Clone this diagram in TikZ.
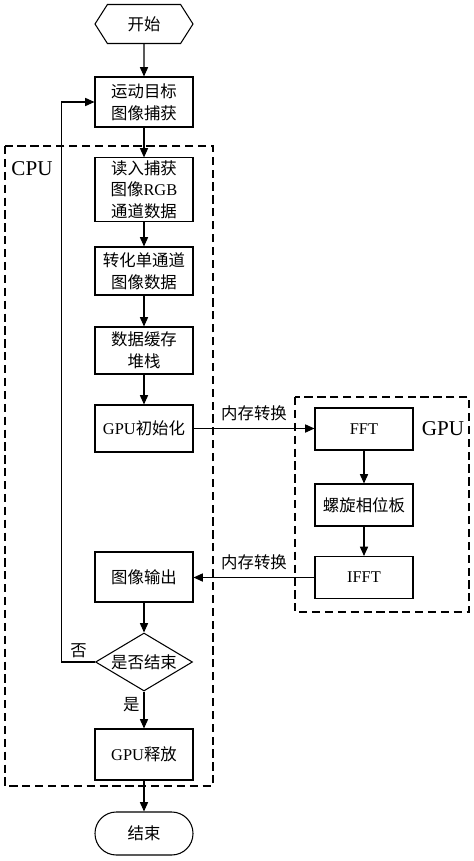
\documentclass[tikz,border=0pt]{standalone}
\usepackage{fontspec}
\setmainfont{Liberation Serif}
\newfontfamily\cjk{Noto Sans CJK SC}
\usetikzlibrary{arrows.meta,shapes.geometric,shapes.symbols}

\begin{document}
\begin{tikzpicture}[x=0.03cm,y=-0.03cm,
    font=\cjk\fontsize{14}{18.5}\selectfont,
    box/.style={draw,line width=0.9pt,minimum width=2.94cm,align=center,inner sep=2pt},
    flow/.style={line width=0.9pt,-{Triangle[length=8pt,width=7pt]}},
    region/.style={line width=0.9pt,dash pattern=on 7pt off 4pt},
    tag/.style={font=\rmfamily\fontsize{18}{20}\selectfont}]
    \useasboundingbox (0,0) rectangle (474,861);
    % dashed areas
    \draw[region] (5,146) rectangle (213,786);
    \draw[region] (295,397) rectangle (469,612);
    \node[tag] (cpu) at (32,169) {CPU};
    \node[tag] (gpu) at (443,429) {GPU};
    % main column
    \node[draw,line width=0.9pt,signal,signal to=west and east,signal pointer angle=115,
          minimum width=2.94cm,minimum height=1.17cm,inner sep=0pt] (start) at (144,24) {开始};
    \node[box,minimum height=1.5cm] (capture) at (144,102) {运动目标\\图像捕获};
    \node[box,minimum height=1.89cm] (readrgb) at (144,189.5) {读入捕获\\图像\textrm{RGB}\\通道数据};
    \node[box,minimum height=1.44cm] (gray) at (144,271) {转化单通道\\图像数据};
    \node[box,minimum height=1.41cm] (stack) at (144,350.5) {数据缓存\\堆栈};
    \node[box,minimum height=1.41cm] (gpuinit) at (144,428.5) {\textrm{GPU}初始化};
    \node[box,minimum height=1.5cm] (output) at (144,577) {图像输出};
    \node[draw,line width=0.9pt,diamond,aspect=1.67,inner sep=0pt,
          minimum width=2.91cm,minimum height=1.74cm] (judge) at (144,662) {是否结束};
    \node[box,minimum height=1.53cm] (release) at (144,754.5) {\textrm{GPU}释放};
    \node[box,rounded corners=0.64cm,minimum height=1.29cm] (stop) at (144,833.5) {结束};
    % gpu column
    \node[box,minimum height=1.26cm] (fft) at (364,429) {\textrm{FFT}};
    \node[box,minimum height=1.26cm] (spiral) at (364,505) {螺旋相位板};
    \node[box,minimum height=1.26cm] (ifft) at (364,577.5) {\textrm{IFFT}};
    % connectors
    \draw[flow] (start) -- (capture);
    \draw[flow] (capture) -- (readrgb);
    \draw[flow] (readrgb) -- (gray);
    \draw[flow] (gray) -- (stack);
    \draw[flow] (stack) -- (gpuinit);
    \draw[flow] (gpuinit.east) -- node[above=3pt]{内存转换} (gpuinit.east -| fft.west);
    \draw[flow] (fft) -- (spiral);
    \draw[flow] (spiral) -- (ifft);
    \draw[flow] (ifft.west) -- node[above=3pt]{内存转换} (ifft.west -| output.east);
    \draw[flow] (output) -- (judge);
    \draw[flow] (judge) -- node[left,pos=0.35]{是} (release);
    \draw[flow] (judge.west) -- node[above]{否} ++(-33,0) |- (capture.west);
    \draw[flow] (release) -- (stop);
\end{tikzpicture}
\end{document}
